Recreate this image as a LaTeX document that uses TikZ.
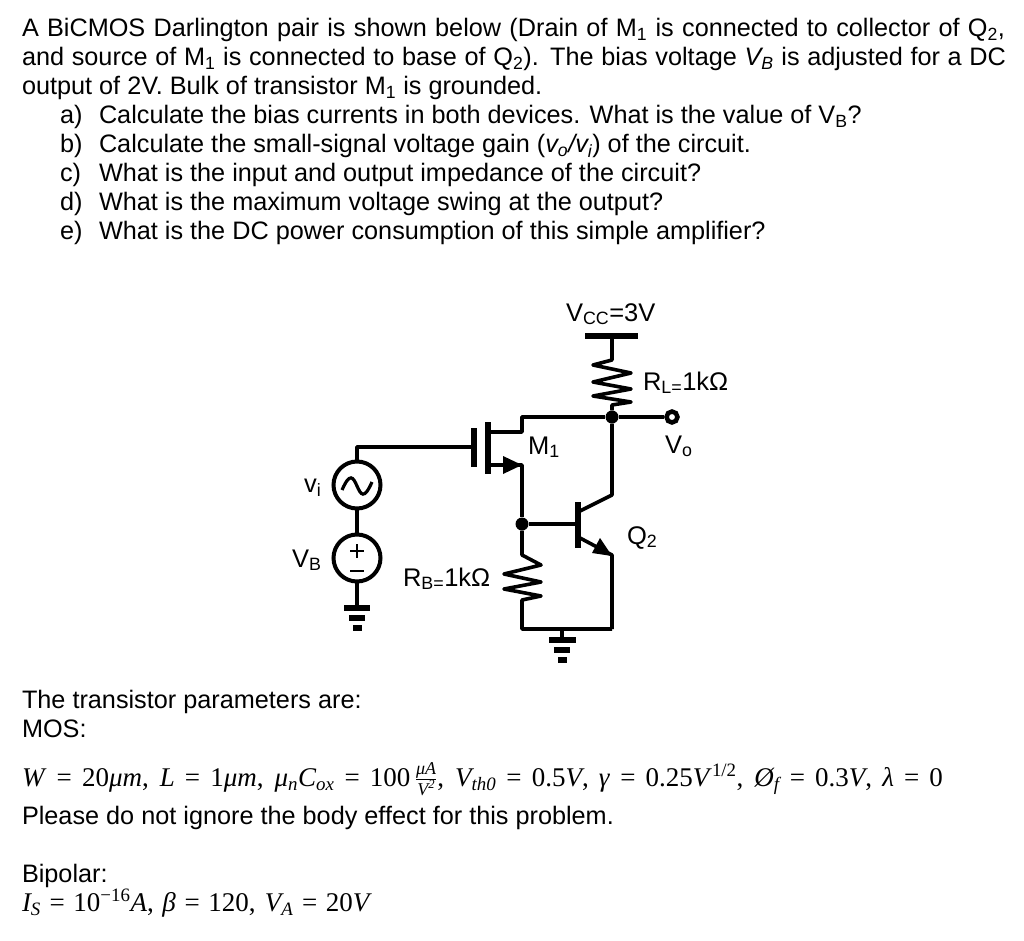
\RequirePackage{fix-cm}
\documentclass[tikz,border=0pt]{standalone}
\usepackage{fontspec}
\setmainfont{Liberation Sans}
\newfontfamily\serifit{Liberation Serif}
\newcommand{\mv}[1]{\textit{#1}}
\newcommand{\smallfrac}[2]{$\frac{\hbox{\fontsize{18}{18}\selectfont\itshape #1}}{\hbox{\fontsize{18}{18}\selectfont\itshape #2}}$}
\tikzset{
  txt/.style={anchor=base west,inner sep=0pt,outer sep=0pt,font=\fontsize{25.25}{25.25}\selectfont},
  lab/.style={anchor=base west,inner sep=0pt,outer sep=0pt,font=\fontsize{25.5}{25.5}\selectfont},
  mth/.style={anchor=base west,inner sep=0pt,outer sep=0pt,font=\serifit\fontsize{27}{27}\selectfont},
  wire/.style={line width=3.6pt,line cap=butt,line join=round},
  thick bar/.style={line width=6pt},
  src/.style={circle,draw,line width=4pt,minimum size=47pt,inner sep=0pt,outer sep=0pt},
  dot/.style={circle,fill,inner sep=0pt,minimum size=13pt},
  term/.style={circle,draw,line width=4.5pt,fill=white,inner sep=0pt,minimum size=11pt},
}
\begin{document}
\begin{tikzpicture}[x=1pt,y=-1pt]
\useasboundingbox (0,0) rectangle (1024,941);
% problem text
\node[txt] (t1) at (22,37) {\makebox[983pt][s]{A BiCMOS Darlington pair is shown below (Drain of M\textsubscript{1} is connected to collector of Q\textsubscript{2},}};
\node[txt] (t2) at (22,66) {\makebox[984pt][s]{and source of M\textsubscript{1} is connected to base of Q\textsubscript{2}). The bias voltage \textit{V\textsubscript{B}} is adjusted for a DC}};
\node[txt] (t3) at (22,95) {output of 2V. Bulk of transistor M\textsubscript{1} is grounded.};
\node[txt] (a) at (60,124) {a)};\node[txt] (at) at (99,124) {Calculate the bias currents in both devices. What is the value of V\textsubscript{B}?};
\node[txt] (b) at (60,153) {b)};\node[txt] (bt) at (99,153) {Calculate the small-signal voltage gain (\textit{v\textsubscript{o}/v\textsubscript{i}}) of the circuit.};
\node[txt] (c) at (60,182) {c)};\node[txt] (ct) at (99,182) {What is the input and output impedance of the circuit?};
\node[txt] (d) at (60,211) {d)};\node[txt] (dt) at (99,211) {What is the maximum voltage swing at the output?};
\node[txt] (e) at (60,240) {e)};\node[txt] (et) at (99,240) {What is the DC power consumption of this simple amplifier?};
\node[txt] (p0) at (22,708) {The transistor parameters are:};
\node[txt] (p1) at (22,737) {MOS:};
\node[mth] (p2) at (22,786) {\makebox[921pt][s]{\mv{W} = 20\mv{μm}, \mv{L} = 1\mv{μm}, \mv{μ\textsubscript{n}C\textsubscript{ox}} = 100\,\smallfrac{μA}{V\textsuperscript{2}}, \mv{V\textsubscript{th0}} = 0.5\mv{V}, \mv{γ} = 0.25\mv{V}\textsuperscript{1/2}, \mv{\O\textsubscript{f}} = 0.3\mv{V}, \mv{λ} = 0}};
\node[txt] (p3) at (22,824) {Please do not ignore the body effect for this problem.};
\node[txt] (p4) at (22,882) {Bipolar:};
\node[mth] (p5) at (22,911) {\makebox[350pt][s]{\mv{I\textsubscript{S}} = 10\textsuperscript{−16}\mv{A}, \mv{β} = 120, \mv{V\textsubscript{A}} = 20\mv{V}}};
% named circuit points
\node[src] (vi) at (357,485) {};
\node[src] (vb) at (357,558) {};
\node[dot] (out) at (612,417) {};
\node[dot] (bn) at (522,524) {};
\node[term] (vo) at (672,417) {};
\coordinate (vcc) at (612,336);
\coordinate (rlt) at (612,360);
\coordinate (rlb) at (612,405);
\coordinate (rbt) at (522,555);
\coordinate (rbb) at (522,600);
\coordinate (gl) at (357,447);
\coordinate (gr) at (474,447);
\coordinate (dn) at (522,432);
\coordinate (dc) at (490,432);
\coordinate (sn) at (522,465);
\coordinate (sc) at (490,465);
\coordinate (bb) at (578,524);
\coordinate (cc) at (612,495);
\coordinate (ci) at (580,511);
\coordinate (ei) at (580,538);
\coordinate (ee) at (612,555);
\coordinate (g1) at (357,608);
\coordinate (bl) at (522,629);
\coordinate (br) at (612,629);
\coordinate (gm) at (562,629);
\coordinate (g2) at (562,640);
% supply and load
\draw[thick bar] (585,336) -- (638,336);
\draw[wire] (vcc) -- (rlt) -- (593,365) -- (631,373) -- (593,382) -- (631,389) -- (593,396) -- (631,402) -- (rlb) -- (out);
\draw[wire] (out) -- (vo);
\draw[wire] (out) -- (cc) -- (ci);
\draw[wire] (dc) -- (dn) -- (522,417) -- (out);
% MOS
\draw[thick bar] (474,428) -- (474,467);
\draw[thick bar] (488,422) -- (488,474);
\draw[wire] (vi) -- (gl) -- (gr);
\draw[wire] (sc) -- (sn) -- (bn);
\fill (503,456) -- (522,465) -- (503,474) -- cycle;
% BJT
\draw[thick bar] (578,502) -- (578,548);
\draw[wire] (bn) -- (bb);
\draw[wire] (ei) -- (ee) -- (br);
\fill (612,556) -- (592,553) -- (600,538) -- cycle;
% base resistor and return
\draw[wire] (bn) -- (rbt) -- (541,565) -- (504,574) -- (541,582) -- (504,589) -- (541,596) -- (rbb) -- (bl) -- (br);
\draw[wire] (gm) -- (g2);
\draw[thick bar] (549,640) -- (576,640);
\draw[thick bar] (554,650) -- (570,650);
\draw[thick bar] (558,660) -- (567,660);
% sources
\draw[wire] (vi) -- (vb);
\draw[wire] (vb) -- (g1);
\draw[thick bar] (344,608) -- (370,608);
\draw[thick bar] (349,618) -- (365,618);
\draw[thick bar] (353,628) -- (362,628);
\draw[line width=3.2pt] (342,490) .. controls (350,472) and (353,477) .. (357,486) .. controls (361,495) and (364,500) .. (372,482);
\draw[line width=2pt] (350,551) -- (364,551) (357,544) -- (357,558) (350,571) -- (364,571);
% labels
\node[lab] (lvcc) at (566,321) {V\textsubscript{CC}=3V};
\node[lab] (lrl) at (643,390) {R\textsubscript{L=}1kΩ};
\node[lab] (lm) at (528,454) {M\textsubscript{1}};
\node[lab] (lvo) at (665,453) {V\textsubscript{o}};
\node[lab] (lq) at (627,544) {Q\textsubscript{2}};
\node[lab] (lvi) at (304,492) {v\textsubscript{i}};
\node[lab] (lvb) at (292,567) {V\textsubscript{B}};
\node[lab] (lrb) at (403,586) {R\textsubscript{B=}1kΩ};
\end{tikzpicture}
\end{document}
